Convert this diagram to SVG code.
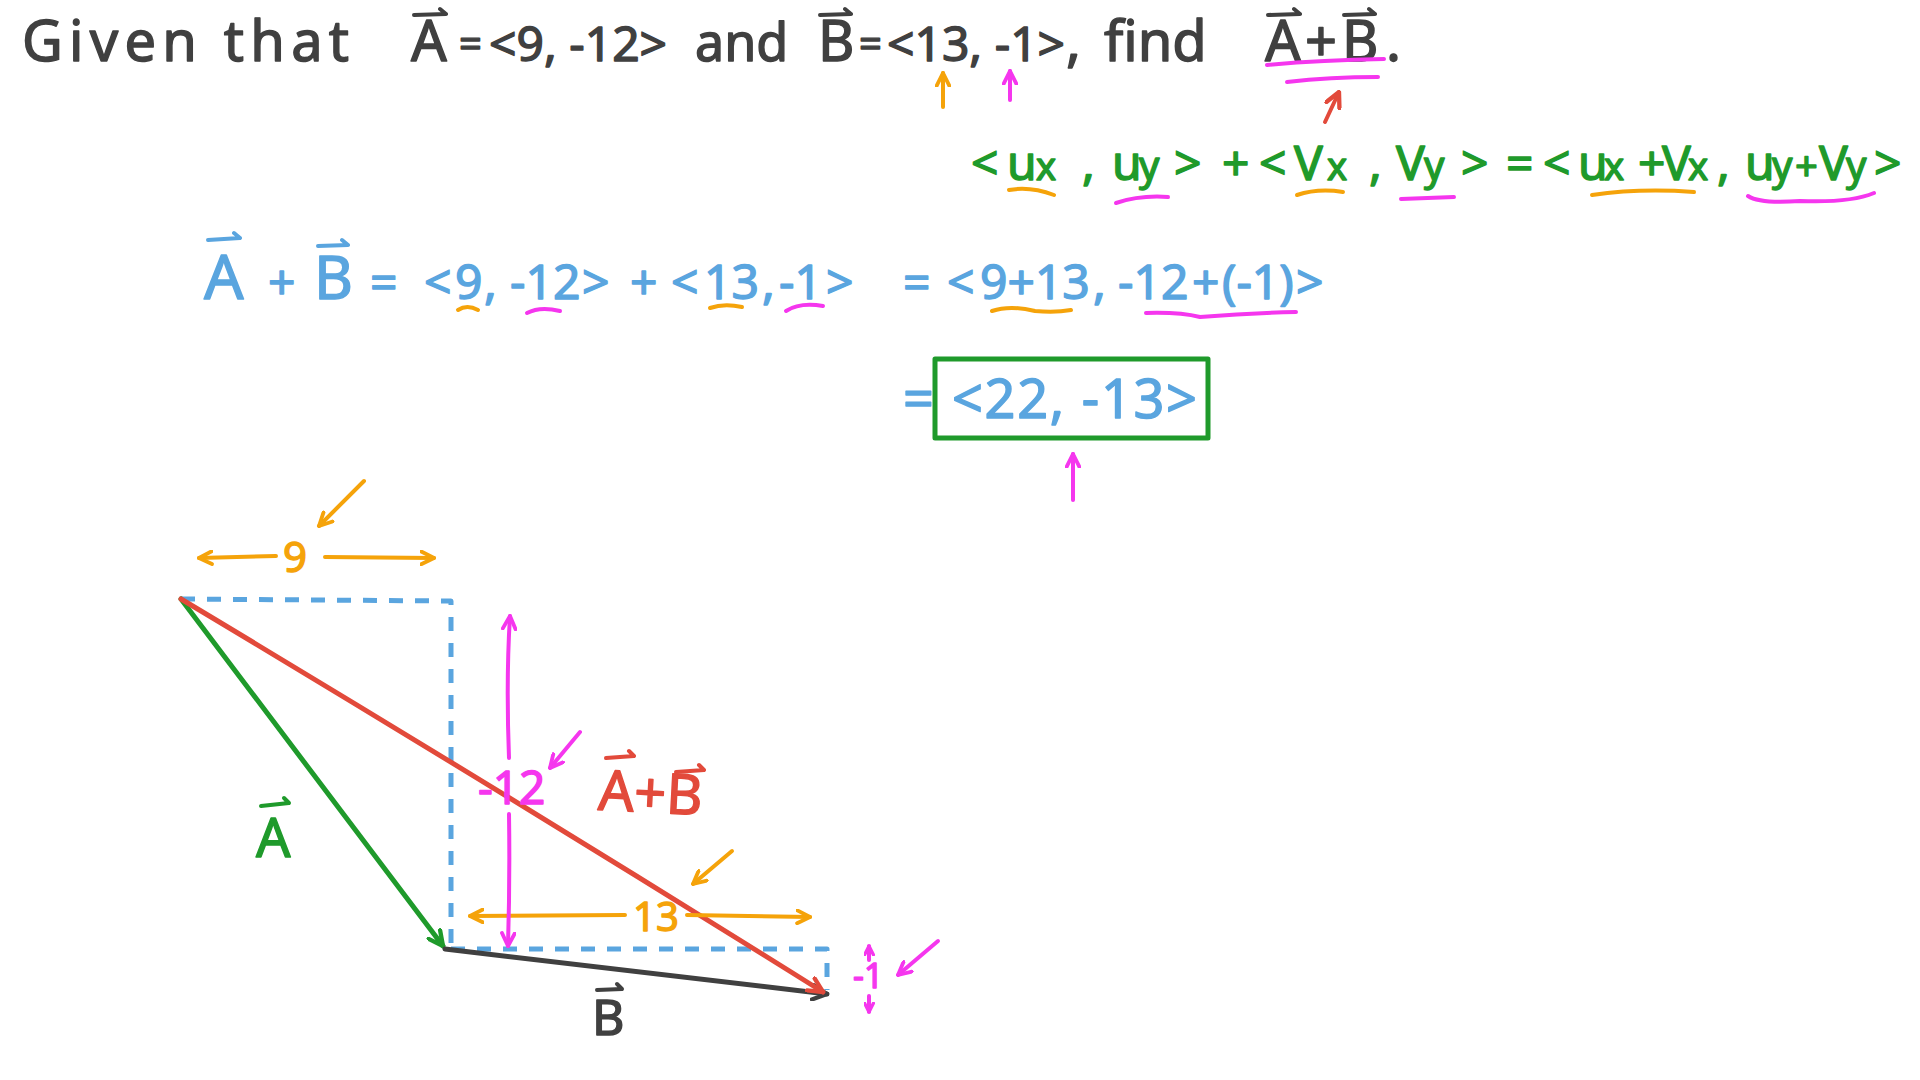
<svg xmlns="http://www.w3.org/2000/svg" width="1920" height="1080" viewBox="0 0 1920 1080">
<style>
.t{font-family:"Noto Sans","DejaVu Sans",sans-serif;stroke-width:1.4;stroke-linejoin:round}
.dk{fill:#404040;stroke:#404040}
.gr{fill:#1f9a2b;stroke:#1f9a2b}
.bl{fill:#5aa5df;stroke:#5aa5df}
.or{fill:#f5a30a;stroke:#f5a30a}
.mg{fill:#f536ee;stroke:#f536ee}
.rd{fill:#e24a3b;stroke:#e24a3b}
.s{fill:none;stroke-linecap:round;stroke-linejoin:round}
.sdk{stroke:#404040}
.sgr{stroke:#1f9a2b}
.sbl{stroke:#5aa5df}
.sor{stroke:#f5a30a}
.smg{stroke:#f536ee}
.srd{stroke:#e24a3b}
.w4{stroke-width:4}
.w5{stroke-width:5}
.dash{stroke-dasharray:14 12;stroke-linecap:butt}
</style>
<defs>
<marker id="hOr" viewBox="0 0 10 10" refX="9" refY="5" markerWidth="16" markerHeight="16" markerUnits="userSpaceOnUse" orient="auto-start-reverse"><path d="M1,1 L9,5 L1,9" fill="none" stroke="#f5a30a" stroke-width="2.4" stroke-linecap="round" stroke-linejoin="round"/></marker>
<marker id="hMg" viewBox="0 0 10 10" refX="9" refY="5" markerWidth="16" markerHeight="16" markerUnits="userSpaceOnUse" orient="auto-start-reverse"><path d="M1,1 L9,5 L1,9" fill="none" stroke="#f536ee" stroke-width="2.4" stroke-linecap="round" stroke-linejoin="round"/></marker>
<marker id="hMgS" viewBox="0 0 10 10" refX="9" refY="5" markerWidth="11" markerHeight="11" markerUnits="userSpaceOnUse" orient="auto-start-reverse"><path d="M1,1 L9,5 L1,9" fill="none" stroke="#f536ee" stroke-width="3" stroke-linecap="round" stroke-linejoin="round"/></marker>
<marker id="hRd" viewBox="0 0 10 10" refX="9" refY="5" markerWidth="18" markerHeight="18" markerUnits="userSpaceOnUse" orient="auto-start-reverse"><path d="M1,1 L9,5 L1,9" fill="none" stroke="#e24a3b" stroke-width="2.4" stroke-linecap="round" stroke-linejoin="round"/></marker>
<marker id="hGr" viewBox="0 0 10 10" refX="9" refY="5" markerWidth="18" markerHeight="18" markerUnits="userSpaceOnUse" orient="auto-start-reverse"><path d="M1,1 L9,5 L1,9" fill="none" stroke="#1f9a2b" stroke-width="2.4" stroke-linecap="round" stroke-linejoin="round"/></marker>
<marker id="hDk" viewBox="0 0 10 10" refX="9" refY="5" markerWidth="18" markerHeight="18" markerUnits="userSpaceOnUse" orient="auto-start-reverse"><path d="M1,1 L9,5 L1,9" fill="none" stroke="#404040" stroke-width="2.4" stroke-linecap="round" stroke-linejoin="round"/></marker>
</defs>
<rect width="1920" height="1080" fill="#ffffff"/>

<g id="title" class="t dk" font-size="56">
<text x="22" y="61" textLength="327" lengthAdjust="spacing">Given that</text>
<text x="411" y="61">A</text>
<text x="459" y="58" font-size="40">=</text>
<text x="489" y="61" font-size="48">&lt;9, -12&gt;</text>
<text x="695" y="61" font-size="52">and</text>
<text x="818" y="61">B</text>
<text x="859" y="58" font-size="40">=</text>
<text x="887" y="61" font-size="48">&lt;13, -1&gt;</text>
<text x="1066" y="61">,</text>
<text x="1104" y="61">find</text>
<text x="1265" y="61">A</text>
<text x="1305" y="61">+</text>
<text x="1342" y="61">B</text>
<text x="1386" y="61">.</text>
<path class="s sdk w4" d="M414,15 L446,14 M440,9 L446,14 M820,15 L851,14 M845,9 L851,14 M1268,15 L1300,14 M1294,9 L1300,14 M1344,15 L1375,14 M1369,9 L1375,14"/>
</g>

<g id="formula" class="t gr" font-size="48">
<text y="180"><tspan x="971">&lt;</tspan><tspan x="1007">u</tspan><tspan x="1036" font-size="38">x</tspan><tspan x="1082">,</tspan><tspan x="1112">u</tspan><tspan x="1139" font-size="40">y</tspan><tspan x="1174">&gt;</tspan><tspan x="1222">+</tspan><tspan x="1259">&lt;</tspan><tspan x="1294">V</tspan><tspan x="1327" font-size="38">x</tspan><tspan x="1369">,</tspan><tspan x="1396">V</tspan><tspan x="1424" font-size="40">y</tspan><tspan x="1461">&gt;</tspan><tspan x="1506">=</tspan><tspan x="1543">&lt;</tspan><tspan x="1578">u</tspan><tspan x="1604" font-size="38">x</tspan><tspan x="1638">+</tspan><tspan x="1662">V</tspan><tspan x="1688" font-size="38">x</tspan><tspan x="1717">,</tspan><tspan x="1745">u</tspan><tspan x="1772" font-size="40">y</tspan><tspan x="1795" font-size="40">+</tspan><tspan x="1819">V</tspan><tspan x="1846" font-size="40">y</tspan><tspan x="1874">&gt;</tspan></text>
</g>

<g id="work" class="t bl" font-size="48">
<text x="204" y="299" font-size="62">A</text>
<text x="268" y="299">+</text>
<text x="314" y="299" font-size="60">B</text>
<text x="370" y="299">=</text>
<text x="424" y="299">&lt;</text>
<text x="455" y="299">9</text>
<text x="484" y="299">,</text>
<text x="510" y="299">-12</text>
<text x="582" y="299">&gt;</text>
<text x="630" y="299">+</text>
<text x="671" y="299">&lt;</text>
<text x="704" y="299">13</text>
<text x="762" y="299">,</text>
<text x="779" y="299">-1</text>
<text x="826" y="299">&gt;</text>
<text x="903" y="299">=</text>
<text x="947" y="299">&lt;</text>
<text x="980" y="299">9+13</text>
<text x="1093" y="299">,</text>
<text x="1118" y="299">-12</text>
<text x="1192" y="299">+</text>
<text x="1222" y="299">(-1)</text>
<text x="1296" y="299">&gt;</text>
<path class="s sbl w4" d="M208,240 L240,238 M234,233 L240,238 M318,246 L348,245 M342,240 L348,245"/>
</g>

<g id="result" class="t bl" font-size="54">
<text x="903" y="418">=</text>
<rect x="935" y="359" width="273" height="79" fill="none" stroke="#1f9a2b" stroke-width="5"/>
<text x="952" y="418" textLength="245" lengthAdjust="spacing">&lt;22, -13&gt;</text>
</g>

<g id="underlines" class="s w4">
<path class="sor" d="M1009,190 Q1030,186 1054,195"/>
<path class="smg" d="M1116,203 Q1140,195 1168,197"/>
<path class="sor" d="M1297,195 Q1318,188 1343,192"/>
<path class="smg" d="M1401,199 L1454,197"/>
<path class="sor" d="M1592,195 Q1640,188 1694,192"/>
<path class="smg" d="M1748,196 Q1760,204 1800,201 Q1850,203 1874,193"/>
<path class="sor" d="M458,310 Q467,304 478,310"/>
<path class="smg" d="M527,313 Q540,306 560,311"/>
<path class="sor" d="M710,308 Q724,303 742,307"/>
<path class="smg" d="M786,311 Q800,302 823,306"/>
<path class="sor" d="M992,311 Q1010,305 1035,311 Q1055,313 1071,310"/>
<path class="smg" d="M1146,313 Q1180,312 1200,317 Q1250,313 1296,312"/>
<path class="smg" d="M1267,65 Q1320,60 1384,59"/>
<path class="smg" d="M1287,82 Q1330,77 1378,77"/>
</g>

<g id="guides" class="s sbl w5 dash">
<path d="M181,599 L451,601 L451,945"/>
<path d="M451,949 L827,949 L827,990"/>
</g>

<g id="vectorA">
<path class="s sgr w5" d="M181,599 L443,946" marker-end="url(#hGr)"/>
<text class="t gr" x="256" y="857" font-size="54">A</text>
<path class="s sgr w4" d="M261,806 L289,803 M284,798 L289,803"/>
</g>

<g id="vectorB">
<path class="s sdk w5" d="M445,949 L827,994" marker-end="url(#hDk)"/>
<text class="t dk" x="592" y="1035" font-size="50">B</text>
<path class="s sdk w4" d="M597,990 L622,989 M617,984 L622,989"/>
</g>

<g id="vectorSum">
<path class="s srd w5" d="M181,599 Q500,790 823,992" marker-end="url(#hRd)"/>
<text class="t rd" x="598" y="812" font-size="56" transform="rotate(3 640 800)">A+B</text>
<path class="s srd w4" d="M606,758 L634,756 M629,751 L634,756 M676,772 L704,770 M699,765 L704,770"/>
</g>

<g id="dims">
<path class="s sor w4" d="M199,558 L276,556" marker-start="url(#hOr)"/>
<path class="s sor w4" d="M325,557 L434,558" marker-end="url(#hOr)"/>
<text class="t or" x="283" y="572" font-size="42">9</text>
<path class="s sor w4" d="M470,916 L625,915" marker-start="url(#hOr)"/>
<path class="s sor w4" d="M687,915 L810,917" marker-end="url(#hOr)"/>
<text class="t or" x="633" y="931" font-size="40">13</text>
<path class="s smg w4" d="M510,616 Q506,680 509,758" marker-start="url(#hMg)"/>
<path class="s smg w4" d="M509,814 Q510,880 508,946" marker-end="url(#hMg)"/>
<text class="t mg" x="478" y="804" font-size="46">-12</text>
<path class="s smg w4" d="M869,960 L869,946" marker-end="url(#hMgS)"/>
<path class="s smg w4" d="M869,996 L869,1012" marker-end="url(#hMgS)"/>
<text class="t mg" x="853" y="988" font-size="34">-1</text>
</g>

<g id="connectors" class="s w4">
<path class="sor" d="M943,107 L943,73" marker-end="url(#hOr)"/>
<path class="smg" d="M1010,100 L1010,71" marker-end="url(#hMg)"/>
<path class="srd" d="M1325,122 L1339,92" marker-end="url(#hRd)"/>
<path class="smg" d="M1073,500 L1073,454" marker-end="url(#hMg)"/>
<path class="sor" d="M364,481 L319,526" marker-end="url(#hOr)"/>
<path class="smg" d="M580,732 L550,768" marker-end="url(#hMg)"/>
<path class="sor" d="M732,851 L693,884" marker-end="url(#hOr)"/>
<path class="smg" d="M938,941 L898,975" marker-end="url(#hMg)"/>
</g>
</svg>
